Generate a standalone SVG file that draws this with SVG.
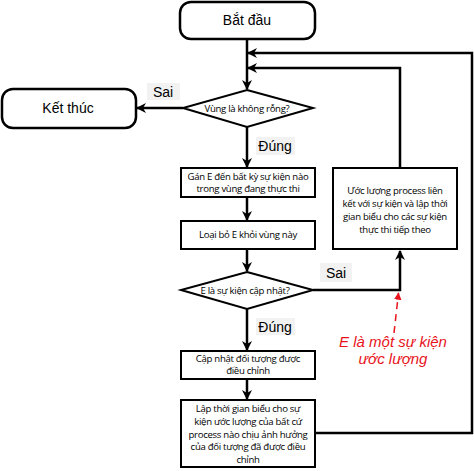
<svg xmlns="http://www.w3.org/2000/svg" width="474" height="471" viewBox="0 0 474 471">
<defs>
<marker id="ah" viewBox="0 0 10 10" refX="9" refY="5" markerWidth="4" markerHeight="4" orient="auto" markerUnits="strokeWidth">
<path d="M0,0 L10,5 L0,10 L3,5 z" fill="#000"/>
</marker>
<marker id="ahr" viewBox="0 0 10 10" refX="9" refY="5" markerWidth="5" markerHeight="5" orient="auto" markerUnits="strokeWidth">
<path d="M0,0 L10,5 L0,10 z" fill="#e8141b"/>
</marker>
<style>
.term{fill:#fff;stroke:#000;stroke-width:2.5}
.box{fill:#fff;stroke:#000;stroke-width:2}
.big{font-family:"Liberation Sans",Arial,sans-serif;font-size:14px;fill:#000;text-anchor:middle}
.sm{font-family:"Open Sans","Liberation Sans",sans-serif;font-size:9.6px;fill:#000;text-anchor:middle;letter-spacing:-0.3px}
.lbl{fill:#f2f2f2}
.ln{fill:none;stroke:#000;stroke-width:2.5}
.red{font-family:"Liberation Sans",Arial,sans-serif;font-size:15px;font-style:italic;fill:#e8141b;text-anchor:middle}
</style>
</defs>
<rect width="474" height="471" fill="#fff"/>

<g id="connectors">
<line class="ln" x1="247" y1="39" x2="247" y2="89" marker-end="url(#ah)"/>
<polyline class="ln" points="315,433 472,433 472,53 248,53" marker-end="url(#ah)"/>
<polyline class="ln" points="400,168 400,68 248,68" marker-end="url(#ah)"/>
<line class="ln" x1="183" y1="108" x2="137" y2="108" marker-end="url(#ah)"/>
<line class="ln" x1="247" y1="127" x2="247" y2="167" marker-end="url(#ah)"/>
<line class="ln" x1="247" y1="197" x2="247" y2="220" marker-end="url(#ah)"/>
<line class="ln" x1="247" y1="249" x2="247" y2="271" marker-end="url(#ah)"/>
<polyline class="ln" points="313,290 400,290 400,251" marker-end="url(#ah)"/>
<line class="ln" x1="247" y1="309" x2="247" y2="350" marker-end="url(#ah)"/>
<line class="ln" x1="247" y1="379" x2="247" y2="399" marker-end="url(#ah)"/>
<line x1="394" y1="333" x2="398.5" y2="293" stroke="#e8141b" stroke-width="1.5" stroke-dasharray="7,5" marker-end="url(#ahr)"/>
</g>

<g id="start">
<rect class="term" x="180" y="2" width="135" height="37" rx="11"/>
<text class="big" x="247" y="25">Bắt đầu</text>
</g>

<g id="end">
<rect class="term" x="2" y="89" width="134" height="39" rx="11"/>
<text class="big" x="68" y="113">Kết thúc</text>
</g>

<g id="label-sai-1">
<rect class="lbl" x="147" y="83" width="33" height="17"/>
<text class="big" x="163" y="97">Sai</text>
</g>

<g id="decision-1">
<polygon class="box" points="247,90 313,108 247,127 183,108"/>
<text class="sm" x="247" y="112">Vùng là không rỗng?</text>
</g>

<g id="label-dung-1">
<rect class="lbl" x="256" y="137" width="39" height="18"/>
<text class="big" x="275" y="151">Đúng</text>
</g>

<g id="assign">
<rect class="box" x="181" y="168" width="134" height="29"/>
<text class="sm" x="248" y="180">Gán E đến bất kỳ sự kiện nào</text>
<text class="sm" x="248" y="192">trong vùng đang thực thi</text>
</g>

<g id="remove">
<rect class="box" x="181" y="221" width="134" height="28"/>
<text class="sm" x="248" y="238">Loại bỏ E khỏi vùng này</text>
</g>

<g id="decision-2">
<polygon class="box" points="247,272 313,290 247,309 181,290"/>
<text class="sm" x="245" y="294">E là sự kiện cập nhật?</text>
</g>

<g id="label-sai-2">
<rect class="lbl" x="320" y="263" width="32" height="19"/>
<text class="big" x="336" y="278">Sai</text>
</g>

<g id="estimate">
<rect class="box" x="333" y="168" width="124" height="81"/>
<text class="sm" x="395" y="194">Ước lượng process liên</text>
<text class="sm" x="395" y="207">kết với sự kiện và lập thời</text>
<text class="sm" x="395" y="220">gian biểu cho các sự kiện</text>
<text class="sm" x="395" y="233">thực thi tiếp theo</text>
</g>

<g id="label-dung-2">
<rect class="lbl" x="256" y="318" width="39" height="17"/>
<text class="big" x="275" y="332">Đúng</text>
</g>

<g id="red-note">
<text class="red" x="393" y="347">E là một sự kiện</text>
<text class="red" x="393" y="364">ước lượng</text>
</g>

<g id="update">
<rect class="box" x="181" y="351" width="134" height="28"/>
<text class="sm" x="248" y="362">Cập nhật đối tượng được</text>
<text class="sm" x="248" y="374">điều chỉnh</text>
</g>

<g id="schedule">
<rect class="box" x="181" y="400" width="134" height="67"/>
<text class="sm" x="248" y="412">Lập thời gian biểu cho sự</text>
<text class="sm" x="248" y="425">kiện ước lượng của bất cứ</text>
<text class="sm" x="248" y="438">process nào chịu ảnh hưởng</text>
<text class="sm" x="248" y="450">của đối tượng đã được điều</text>
<text class="sm" x="248" y="463">chỉnh</text>
</g>
</svg>
